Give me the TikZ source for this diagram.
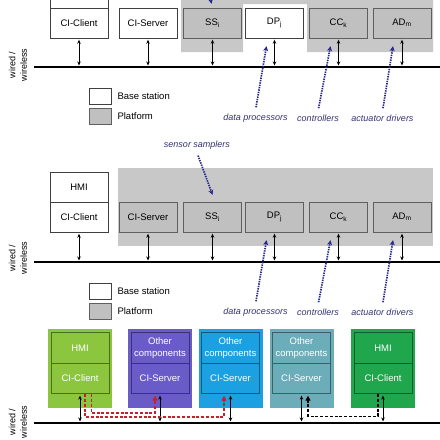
\documentclass[tikz,border=0pt]{standalone}
\usepackage{fontspec}
\setmainfont{Liberation Sans}
\usetikzlibrary{calc,arrows.meta}
\definecolor{platgray}{RGB}{200,200,200}
\definecolor{boxgray}{RGB}{192,192,192}
\definecolor{edgegray}{RGB}{95,95,95}
\definecolor{roleblue}{RGB}{50,50,115}
\definecolor{dotblue}{RGB}{40,40,140}
\definecolor{hmigreen}{RGB}{140,198,63}
\definecolor{srvpurple}{RGB}{106,92,200}
\definecolor{srvblue}{RGB}{27,161,226}
\definecolor{srvteal}{RGB}{107,174,185}
\definecolor{clientgreen}{RGB}{32,166,76}
\definecolor{pathred}{RGB}{200,30,45}

\begin{document}
\begin{tikzpicture}[x=1pt,y=-1pt,
font=\fontsize{9.5}{11}\selectfont
]
    \tikzstyle{base box}=[draw=black!75,fill=white,minimum width=58,minimum height=30,inner sep=0]
    \tikzstyle{plat box}=[base box,draw=edgegray,fill=boxgray]
    \tikzstyle{key box}=[minimum width=22,minimum height=16,inner sep=0]
    \tikzstyle{bus}=[line width=2.5]
    \tikzstyle{link}=[line width=0.7,{Stealth[length=4,width=3.5]}-{Stealth[length=4,width=3.5]},shorten <=1.5,shorten >=1.5]
    \tikzstyle{role}=[text=roleblue,font=\fontsize{9}{10}\selectfont\itshape]
    \tikzstyle{sample}=[line width=1.7,dash pattern=on 1.4 off 1,draw=dotblue,-{Stealth[length=5,width=5]},shorten <=3]
    \tikzstyle{medium}=[rotate=90,align=center,font=\fontsize{9}{11.5}\selectfont]
    \tikzstyle{comp}=[minimum width=64,minimum height=79,inner sep=0]
    \tikzstyle{part}=[minimum width=58,minimum height=30.5,inner sep=0,text=white,align=center,line width=0.8,font=\fontsize{9.5}{12.5}\selectfont]
    \tikzstyle{red path}=[line width=1.5,dash pattern=on 3 off 1.8,pathred,-{Triangle[length=5,width=5]},shorten >=1.5]
    \tikzstyle{black path}=[line width=1.3,dash pattern=on 3 off 1.8,black,-{Triangle[length=5,width=5]},shorten >=1.5]

    \useasboundingbox (0,0) rectangle (440,440);
    \clip (0,0) rectangle (440,440);

    % top row: only DP is on the base station
    \fill[platgray] (181,-1) -- (433,-1) -- (433,52) -- (307,52) -- (307,4) -- (243,4) -- (243,52) -- (181,52) -- cycle;
    \node(hmi1)[base box] at (79,-7) {};
    \node(cc1)[base box] at (79,23) {CI-Client};
    \node(cs1)[base box] at (148,23) {CI-Server};
    \node(ss1)[plat box] at (212.5,23) {SS\textsubscript{i}};
    \node(dp1)[base box] at (274.5,23) {DP\textsubscript{j}};
    \node(ck1)[plat box] at (338.5,23) {CC\textsubscript{k}};
    \node(ad1)[plat box] at (402,23) {AD\textsubscript{m}};
    \draw[sample] ($(ss1.north)+(-3,-14)$) -- ($(ss1.north)+(-1,-4)$);

    \coordinate(bus1) at (34,67);
    \coordinate(bus1e) at (440,67);
    \draw[bus] (bus1) -- (bus1e);
    \foreach \n in {cc1,cs1,ss1,dp1,ck1,ad1}
        \draw[link] (\n.south) -- (\n.south |- bus1);
    \node(wl1)[medium] at (18,65) {wired /\\wireless};

    \node(bs1)[key box,draw=black!75,fill=white] at (100,96) {};
    \node(bst1)[anchor=west] at (114,96) {Base station};
    \node(pf1)[key box,draw=edgegray,fill=boxgray] at (100,116.5) {};
    \node(pft1)[anchor=west] at (114,116.5) {Platform};

    \node(rdp1)[role] at (255.5,118) {data processors};
    \node(rck1)[role] at (318,118) {controllers};
    \node(rad1)[role] at (382.5,118) {actuator drivers};
    \draw[sample] (rdp1.north) -- ($(dp1.south)+(-8,8)$);
    \draw[sample] (rck1.north) -- ($(ck1.south)+(-8,8)$);
    \draw[sample] (rad1.north) -- ($(ad1.south)+(-9,8)$);

    % middle row: everything but the HMI on the platform
    \node(rss2)[role] at (197,145) {sensor samplers};
    \fill[platgray] (118,168) rectangle (433,246);
    \node(hmi2)[base box] at (79,187) {HMI};
    \node(cc2)[base box] at (79,217) {CI-Client};
    \node(cs2)[plat box] at (148,217) {CI-Server};
    \node(ss2)[plat box] at (212.5,217) {SS\textsubscript{i}};
    \node(dp2)[plat box] at (274.5,217) {DP\textsubscript{j}};
    \node(ck2)[plat box] at (338.5,217) {CC\textsubscript{k}};
    \node(ad2)[plat box] at (402,217) {AD\textsubscript{m}};
    \draw[sample] (rss2.south) -- ($(ss2.north)+(0,-7)$);

    \coordinate(bus2) at (34,262);
    \coordinate(bus2e) at (440,262);
    \draw[bus] (bus2) -- (bus2e);
    \foreach \n in {cc2,cs2,ss2,dp2,ck2,ad2}
        \draw[link] (\n.south) -- (\n.south |- bus2);
    \node(wl2)[medium] at (18,258) {wired /\\wireless};

    \node(bs2)[key box,draw=black!75,fill=white] at (100,291) {};
    \node(bst2)[anchor=west] at (114,291) {Base station};
    \node(pf2)[key box,draw=edgegray,fill=boxgray] at (100,311) {};
    \node(pft2)[anchor=west] at (114,311) {Platform};

    \node(rdp2)[role] at (255.5,312) {data processors};
    \node(rck2)[role] at (318,312) {controllers};
    \node(rad2)[role] at (382.5,312) {actuator drivers};
    \draw[sample] (rdp2.north) -- ($(dp2.south)+(-8,8)$);
    \draw[sample] (rck2.north) -- ($(ck2.south)+(-8,8)$);
    \draw[sample] (rad2.north) -- ($(ad2.south)+(-9,8)$);

    % bottom row: components on separate nodes
    \node(n1)[comp,fill=hmigreen] at (80,368.5) {};
    \node(hmi3)[part,draw=hmigreen!55!black] at (80,348) {HMI};
    \node(cc3)[part,draw=hmigreen!55!black] at (80,378.5) {CI-Client};
    \node(n2)[comp,fill=srvpurple] at (160,368.5) {};
    \node(oc2)[part,draw=srvpurple!55!black] at (160,348) {Other\\components};
    \node(cs3a)[part,draw=srvpurple!55!black] at (160,378.5) {CI-Server};
    \node(n3)[comp,fill=srvblue] at (230.5,368.5) {};
    \node(oc3)[part,draw=srvblue!55!black] at (230.5,348) {Other\\components};
    \node(cs3b)[part,draw=srvblue!55!black] at (230.5,378.5) {CI-Server};
    \node(n4)[comp,fill=srvteal] at (301.5,368.5) {};
    \node(oc4)[part,draw=srvteal!55!black] at (301.5,348) {Other\\components};
    \node(cs3c)[part,draw=srvteal!55!black] at (301.5,378.5) {CI-Server};
    \node(n5)[comp,fill=clientgreen] at (383,368.5) {};
    \node(hmi5)[part,draw=clientgreen!55!black] at (383,348) {HMI};
    \node(cc5)[part,draw=clientgreen!55!black] at (383,378.5) {CI-Client};

    \coordinate(bus3) at (34,423);
    \coordinate(bus3e) at (440,423);
    \draw[bus] (bus3) -- (bus3e);
    \foreach \n in {cc3,cs3a,cs3b,cs3c,cc5}
        \draw[link] (\n.south) -- (\n.south |- bus3);
    \node(wl3)[medium] at (18,422) {wired /\\wireless};

    % remote calls
    \draw[red path] ($(cc3.south)+(5,0)$) -- ++(0,23) -| ($(cs3b.south)+(-6.5,0)$);
    \draw[red path] ($(cc3.south)+(11.5,0)$) -- ++(0,19) -| ($(cs3a.south)+(-5,0)$);
    \draw[black path] ($(cc5.south)+(-5,0)$) -- ++(0,22) -| ($(cs3c.south)+(6.5,0)$);
\end{tikzpicture}
\end{document}
